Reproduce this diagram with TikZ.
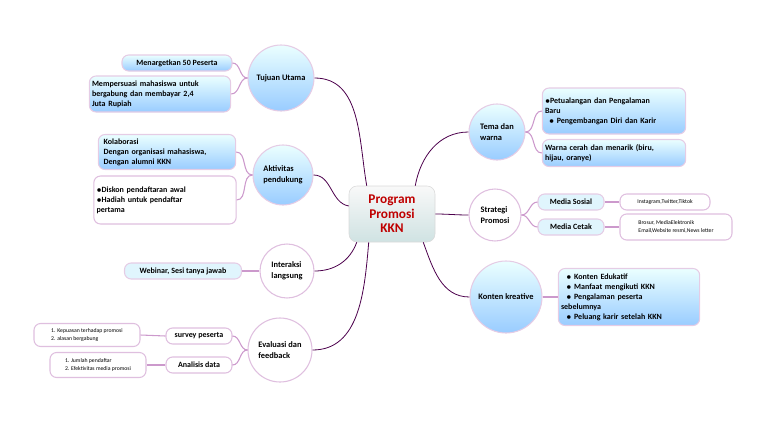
\documentclass[tikz,border=0pt]{standalone}
\usepackage{fontspec}
\setmainfont{Carlito}
\colorlet{mypurple}{violet!60!black}
\colorlet{myline}{violet!40}
\colorlet{myred}{red!75!black}
\tikzset{
  shade ball/.style={top color=cyan!8, bottom color=cyan!50!blue!40, draw=violet!20, line width=0.8pt},
  topic/.style={shape=circle, font=\bfseries\fontsize{6.3}{8}\selectfont, align=left, inner sep=1pt},
  blob/.style={topic, shade ball},
  ring/.style={topic, fill=white, draw=violet!25, line width=0.8pt},
  leaf/.style={rounded corners=5pt, font=\bfseries\fontsize{6}{7.5}\selectfont, inner sep=2pt, align=left, minimum height=16*0.75pt},
  bleaf/.style={leaf, shade ball},
  fleaf/.style={leaf, fill=cyan!12, draw=violet!20, line width=0.8pt},
  wleaf/.style={leaf, fill=white, draw=violet!25, line width=0.8pt},
  tiny/.style={wleaf, font=\fontsize{4.3}{6}\selectfont},
  main/.style={semithick, mypurple},
  sub/.style={thick, myline},
}
\begin{document}
\begin{tikzpicture}[x=0.75pt,y=-0.75pt]
\useasboundingbox (0,0) rectangle (768,429);
% centre
\node[rounded corners=6pt, top color=gray!5, bottom color=cyan!25!gray!30, draw=gray!30,
  minimum width=86*0.75pt, minimum height=56*0.75pt, align=center, text=myred,
  font=\bfseries\fontsize{10}{11}\selectfont] (kkn) at (392,214) {Program\\Promosi\\KKN};
% left side
\node[blob, minimum size=66*0.75pt] (tujuan) at (281,78) {Tujuan Utama};
\node[bleaf, minimum width=110*0.75pt, align=center] (target) at (177,63) {Menargetkan 50 Peserta};
\node[bleaf, text width=136*0.75pt, minimum height=36*0.75pt] (bujuk) at (160,94) {Mempersuasi mahasiswa untuk\\bergabung dan membayar 2,4\\Juta Rupiah};
\node[blob, minimum size=60*0.75pt] (aktiv) at (283,175) {Aktivitas\\pendukung};
\node[bleaf, text width=132*0.75pt, minimum height=35*0.75pt] (kolab) at (167,152) {\ Kolaborasi\\\ Dengan organisasi mahasiswa,\\\ Dengan alumni KKN};
\node[wleaf, text width=137*0.75pt, minimum height=48*0.75pt] (diskon) at (165,200) {$\bullet$Diskon pendaftaran awal\\$\bullet$Hadiah untuk pendaftar\\pertama\\[4pt]};
\node[ring, minimum size=54*0.75pt] (inter) at (287,271) {Interaksi\\langsung};
\node[fleaf, minimum width=117*0.75pt, align=center] (webinar) at (183,271) {Webinar, Sesi tanya jawab};
\node[ring, minimum size=64*0.75pt] (eval) at (280,350) {Evaluasi dan\\feedback};
\node[wleaf, minimum width=66*0.75pt, align=center] (survey) at (199,336) {survey peserta};
\node[wleaf, minimum width=66*0.75pt, align=center] (analisis) at (199,365) {Analisis data};
\node[tiny, minimum width=106*0.75pt, minimum height=23*0.75pt] (puas) at (87,335) {1. Kepuasan terhadap promosi\\2. alasan bergabung};
\node[tiny, minimum width=96*0.75pt, minimum height=25*0.75pt] (jumlah) at (98,365) {1. Jumlah pendaftar\\2. Efektivitas media promosi};
% right side
\node[blob, minimum size=56*0.75pt] (tema) at (497,132) {Tema dan\\warna};
\node[bleaf, text width=138*0.75pt, minimum height=46*0.75pt] (petua) at (614,111) {$\bullet$Petualangan dan Pengalaman\\Baru\\\ \,$\bullet$ Pengembangan Diri dan Karir};
\node[bleaf, text width=138*0.75pt, minimum height=27*0.75pt] (warna) at (614,153) {Warna cerah dan menarik (biru,\\hijau, oranye)};
\node[ring, minimum size=52*0.75pt] (strat) at (495,215) {Strategi\\Promosi};
\node[fleaf, minimum width=66*0.75pt, align=center] (sosial) at (571,202) {Media Sosial};
\node[fleaf, minimum width=66*0.75pt, align=center] (cetak) at (571,227) {Media Cetak};
\node[tiny, minimum width=90*0.75pt] (insta) at (665,202) {Instagram,Twitter,Tiktok};
\node[tiny, minimum width=112*0.75pt, minimum height=26*0.75pt] (brosur) at (676,227) {Brosur, MediaElektronik\\Email,Website resmi,News letter};
\node[blob, minimum size=72*0.75pt] (konten) at (506,297) {Konten kreative};
\node[bleaf, text width=136*0.75pt, minimum height=57*0.75pt] (klist) at (629,297) {\ \ $\bullet$ Konten Edukatif\\\ \ $\bullet$ Manfaat mengikuti KKN\\\ \ $\bullet$ Pengalaman peserta\\sebelumnya\\\ \ $\bullet$ Peluang karir setelah KKN};
% main branches
\draw[main] (kkn.north west) ++(18,0) to[out=100,in=0] (tujuan.east);
\draw[main] (kkn.west) ++(0,-8) to[out=170,in=0] (aktiv.east);
\draw[main] (kkn.south west) ++(8,0) to[out=-110,in=0] (inter.east);
\draw[main] (kkn.south west) ++(20,0) to[out=-95,in=0] (eval.east);
\draw[main] (kkn.north east) ++(-20,0) to[out=80,in=180] (tema.west);
\draw[main] (kkn.east) to[out=0,in=180] (strat.west);
\draw[main] (kkn.south east) ++(-12,0) to[out=-70,in=180] (konten.west);
% sub branches
\foreach \a/\b in {tujuan/target, tujuan/bujuk, aktiv/kolab, aktiv/diskon, inter/webinar,
  eval/survey, eval/analisis}
  \draw[sub] (\a.west) to[out=180,in=0] (\b.east);
\foreach \a/\b in {tema/petua, tema/warna, strat/sosial, strat/cetak, konten/klist}
  \draw[sub] (\a.east) to[out=0,in=180] (\b.west);
\draw[sub] (survey.west) -- (puas.east);
\draw[sub] (analisis.west) -- (jumlah.east);
\draw[sub] (sosial.east) -- (insta.west);
\draw[sub] (cetak.east) -- (brosur.west);
\end{tikzpicture}
\end{document}
